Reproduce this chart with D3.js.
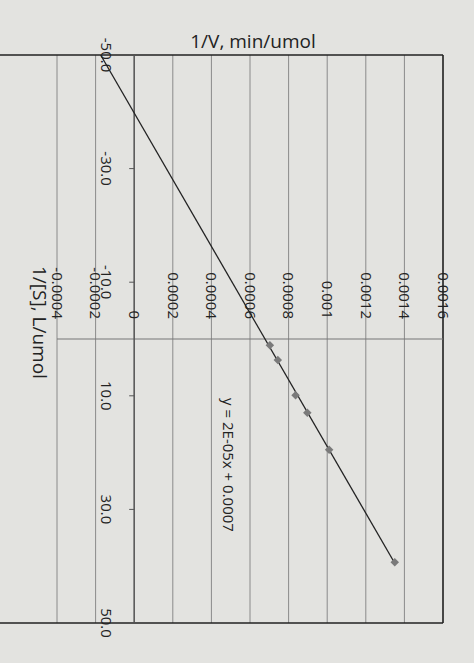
<!DOCTYPE html>
<html>
<head>
<meta charset="utf-8">
<script src="https://cdn.jsdelivr.net/npm/d3@7"></script>
<style>
  body { margin: 0; background: #dcdcd9; }
  text { font-family: "Open Sans", sans-serif; fill: #222; }
</style>
</head>
<body>
<svg id="chart" width="474" height="663"></svg>
<script>
// data: 1/[S] (L/umol) and 1/V (min/umol)
var invS = [1.1, 3.7, 9.9, 13.0, 19.5, 39.3];
var invV = [0.000703, 0.000744, 0.000836, 0.000897, 0.00101, 0.00135];
var vTicks = [-0.0004, -0.0002, 0, 0.0002, 0.0004, 0.0006, 0.0008, 0.001, 0.0012, 0.0014, 0.0016];
var sTicks = [-50, -30, -10, 10, 30, 50];
var eqLabel = "y = 2E-05x + 0.0007";

var svg = d3.select("#chart");

// chart is photographed rotated: 1/V runs left->right, 1/[S] runs top->bottom
var vScale = d3.scaleLinear().domain([-0.0004, 0.0016]).range([57, 443]);
var sScale = d3.scaleLinear().domain([-50, 50]).range([55, 623]);

svg.append("rect")
    .attr("x", 0).attr("y", 0).attr("width", 474).attr("height", 663)
    .style("fill", "#e3e3e0");

// gridlines
svg.selectAll("grid")
    .data(vTicks)
    .enter()
    .append("line")
    .attr("x1", function(d) { return vScale(d); })
    .attr("x2", function(d) { return vScale(d); })
    .attr("y1", sScale(-50))
    .attr("y2", sScale(50))
    .style("stroke", "#8a8a8a")
    .style("stroke-width", 1);

// frame
svg.append("line")
    .attr("x1", 0).attr("x2", vScale(0.0016))
    .attr("y1", sScale(-50)).attr("y2", sScale(-50))
    .style("stroke", "#222").style("stroke-width", 1.5);
svg.append("line")
    .attr("x1", 0).attr("x2", vScale(0.0016))
    .attr("y1", sScale(50)).attr("y2", sScale(50))
    .style("stroke", "#222").style("stroke-width", 1.5);
svg.append("line")
    .attr("x1", vScale(0.0016)).attr("x2", vScale(0.0016))
    .attr("y1", sScale(-50)).attr("y2", sScale(50))
    .style("stroke", "#222").style("stroke-width", 1.5);

// axes through zero
svg.append("line")
    .attr("x1", vScale(-0.0004)).attr("x2", vScale(0.0016))
    .attr("y1", sScale(0)).attr("y2", sScale(0))
    .style("stroke", "#777").style("stroke-width", 1.2);
svg.append("line")
    .attr("x1", vScale(0)).attr("x2", vScale(0))
    .attr("y1", sScale(-50)).attr("y2", sScale(50))
    .style("stroke", "#555").style("stroke-width", 1.4);
svg.selectAll("sTickMarks")
    .data(sTicks)
    .enter()
    .append("line")
    .attr("x1", vScale(0) - 5)
    .attr("x2", vScale(0))
    .attr("y1", function(d) { return sScale(d); })
    .attr("y2", function(d) { return sScale(d); })
    .style("stroke", "#555");

// 1/V tick labels (rotated)
svg.selectAll("vLabels")
    .data(vTicks)
    .enter()
    .append("text")
    .attr("transform", function(d) {
      return "translate(" + vScale(d) + ",319) rotate(90)";
    })
    .attr("dy", "0.35em")
    .style("text-anchor", "end")
    .style("font-size", "15px")
    .text(function(d) { return d == 0 ? "0" : String(+d.toFixed(4)); });

// 1/[S] tick labels (rotated)
svg.selectAll("sLabels")
    .data(sTicks)
    .enter()
    .append("text")
    .attr("transform", function(d) {
      return "translate(" + 106 + "," + sScale(d) + ") rotate(90)";
    })
    .attr("dy", "0.35em")
    .style("text-anchor", "middle")
    .style("font-size", "15px")
    .text(function(d) { return d.toFixed(1); });

// least-squares trendline
var mx = d3.mean(invS), my = d3.mean(invV);
var slope = d3.sum(invS, function(s, i) { return (s - mx) * (invV[i] - my); }) /
            d3.sum(invS, function(s) { return (s - mx) * (s - mx); });
var icpt = my - slope * mx;
var lineEnds = [-50, d3.max(invS)];
svg.append("path")
    .datum(lineEnds)
    .attr("d", d3.line()
      .x(function(s) { return vScale(slope * s + icpt); })
      .y(function(s) { return sScale(s); }))
    .style("stroke", "#222")
    .style("stroke-width", 1.3)
    .style("fill", "none");

// points
svg.selectAll("pts")
    .data(invS)
    .enter()
    .append("rect")
    .attr("x", function(s, i) { return vScale(invV[i]) - 3; })
    .attr("y", function(s) { return sScale(s) - 3; })
    .attr("width", 6).attr("height", 6)
    .attr("transform", function(s, i) {
      return "rotate(45," + vScale(invV[i]) + "," + sScale(s) + ")";
    })
    .style("fill", "#7a7a7a");

// equation
svg.append("text")
    .attr("transform", "translate(228,465) rotate(90)")
    .attr("dy", "0.35em")
    .style("text-anchor", "middle")
    .style("font-size", "15px")
    .text(eqLabel);

// axis titles
svg.append("text")
    .attr("x", 253).attr("y", 48)
    .style("text-anchor", "middle")
    .style("font-size", "19px")
    .text("1/V, min/umol");
svg.append("text")
    .attr("transform", "translate(40,266) rotate(90)")
    .attr("dy", "0.35em")
    .style("text-anchor", "start")
    .style("font-size", "19px")
    .text("1/[S], L/umol");
</script>
</body>
</html>
